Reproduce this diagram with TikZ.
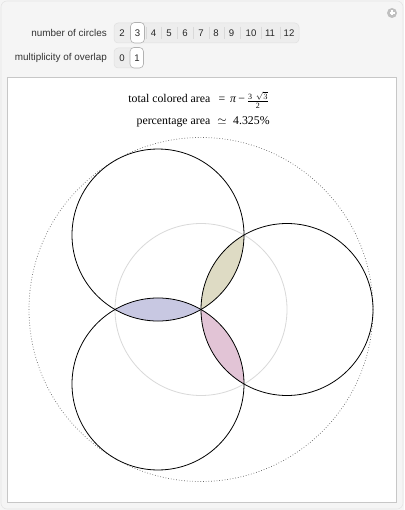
\documentclass[tikz,border=0pt]{standalone}
\usepackage{fontspec}
\setmainfont{Liberation Serif}
\newfontfamily\uisans{Liberation Sans}
\begin{document}
\begin{tikzpicture}[x=1pt,y=-1pt,
  ctl/.style={font=\uisans\fontsize{9.9}{11}\selectfont, text=black!80, anchor=east, inner sep=0pt},
  num/.style={font=\uisans\fontsize{9.6}{11}\selectfont, text=black!85, inner sep=0pt},
  bar/.style={fill=black!7, draw=black!12, rounded corners=4pt, line width=0.5pt},
  sel/.style={fill=white, draw=black!30, rounded corners=4pt, line width=0.6pt},
  sep/.style={draw=black!15, line width=0.5pt},
  frm/.style={font=\fontsize{11.8}{14}\selectfont, inner sep=0pt},
  bigc/.style={draw=black, line width=0.8pt},
  ]
\definecolor{olivec}{RGB}{222,219,196}
\definecolor{bluec}{RGB}{200,200,226}
\definecolor{pinkc}{RGB}{226,196,214}
% background
\fill[black!4] (0,0) rectangle (404,510);
\useasboundingbox (0,0) rectangle (404,510);
\draw[black!10, rounded corners=6pt, line width=0.6pt] (1,1) rectangle (403,509);
% plus icon
\fill[black!25] (392,13) circle[radius=5pt];
\draw[white, line width=1.2pt] (389.5,13) -- (394.5,13) (392,10.5) -- (392,15.5);
% controls row 1
\node[ctl] (lab1) at (107,32.5) {number of circles};
\draw[bar] (114,23) rectangle (299,43);
\foreach \xs in {146,161,177,193,209,224,240,261,280} {\draw[sep] (\xs,27) -- (\xs,39);}
\draw[sel] (130.5,22.5) rectangle (144.5,43);
\foreach \v/\xx in {2/122,3/137.5,4/153.5,5/169,6/185,7/201,8/216,9/231.5,10/251,11/270,12/289} {
  \node[num] (n\v) at (\xx,33) {\v};
}
% controls row 2
\node[ctl] (lab2) at (107,57.5) {multiplicity of overlap};
\draw[bar] (114,48) rectangle (143.5,68);
\draw[sel] (130,47.5) rectangle (143.5,68);
\node[num] (m0) at (122,58) {0};
\node[num] (m1) at (137,58) {1};
% panel
\draw[fill=white, draw=black!22, line width=0.8pt] (7.5,77.5) rectangle (396.5,502.5);
% formula
\node[frm, anchor=base east] (t1) at (210.5,103) {total colored area};
\node[frm, anchor=base] (eq1) at (222,103) {=};
\node[frm, anchor=base west] (f1) at (230,103) {\textit{π}\,−\,\raisebox{-0.2ex}{$\frac{\mbox{\fontsize{8}{9}\selectfont 3\ \ $\sqrt{3}$}}{\mbox{\fontsize{8}{9}\selectfont 2}}$}};
\node[frm, anchor=base east] (t2) at (210.5,125) {percentage area};
\node[frm, anchor=base] (eq2) at (222,125) {$\simeq$};
\node[frm, anchor=base west] (f2) at (233,125) {4.325\%};
% geometry
\coordinate (C) at (201,309.5);
\coordinate (A) at (158,235.02);
\coordinate (B) at (287,309.5);
\coordinate (D) at (158,383.98);
% lenses
\begin{scope}
  \clip (A) circle[radius=86pt];
  \fill[olivec] (B) circle[radius=86pt];
  \fill[bluec] (D) circle[radius=86pt];
\end{scope}
\begin{scope}
  \clip (B) circle[radius=86pt];
  \fill[pinkc] (D) circle[radius=86pt];
\end{scope}
% guide circles
\draw[black!15, line width=0.8pt] (C) circle[radius=86pt];
\draw[black!60, dotted, line width=0.7pt] (C) circle[radius=172pt];
% main circles
\draw[bigc] (A) circle[radius=86pt];
\draw[bigc] (B) circle[radius=86pt];
\draw[bigc] (D) circle[radius=86pt];
\end{tikzpicture}
\end{document}
